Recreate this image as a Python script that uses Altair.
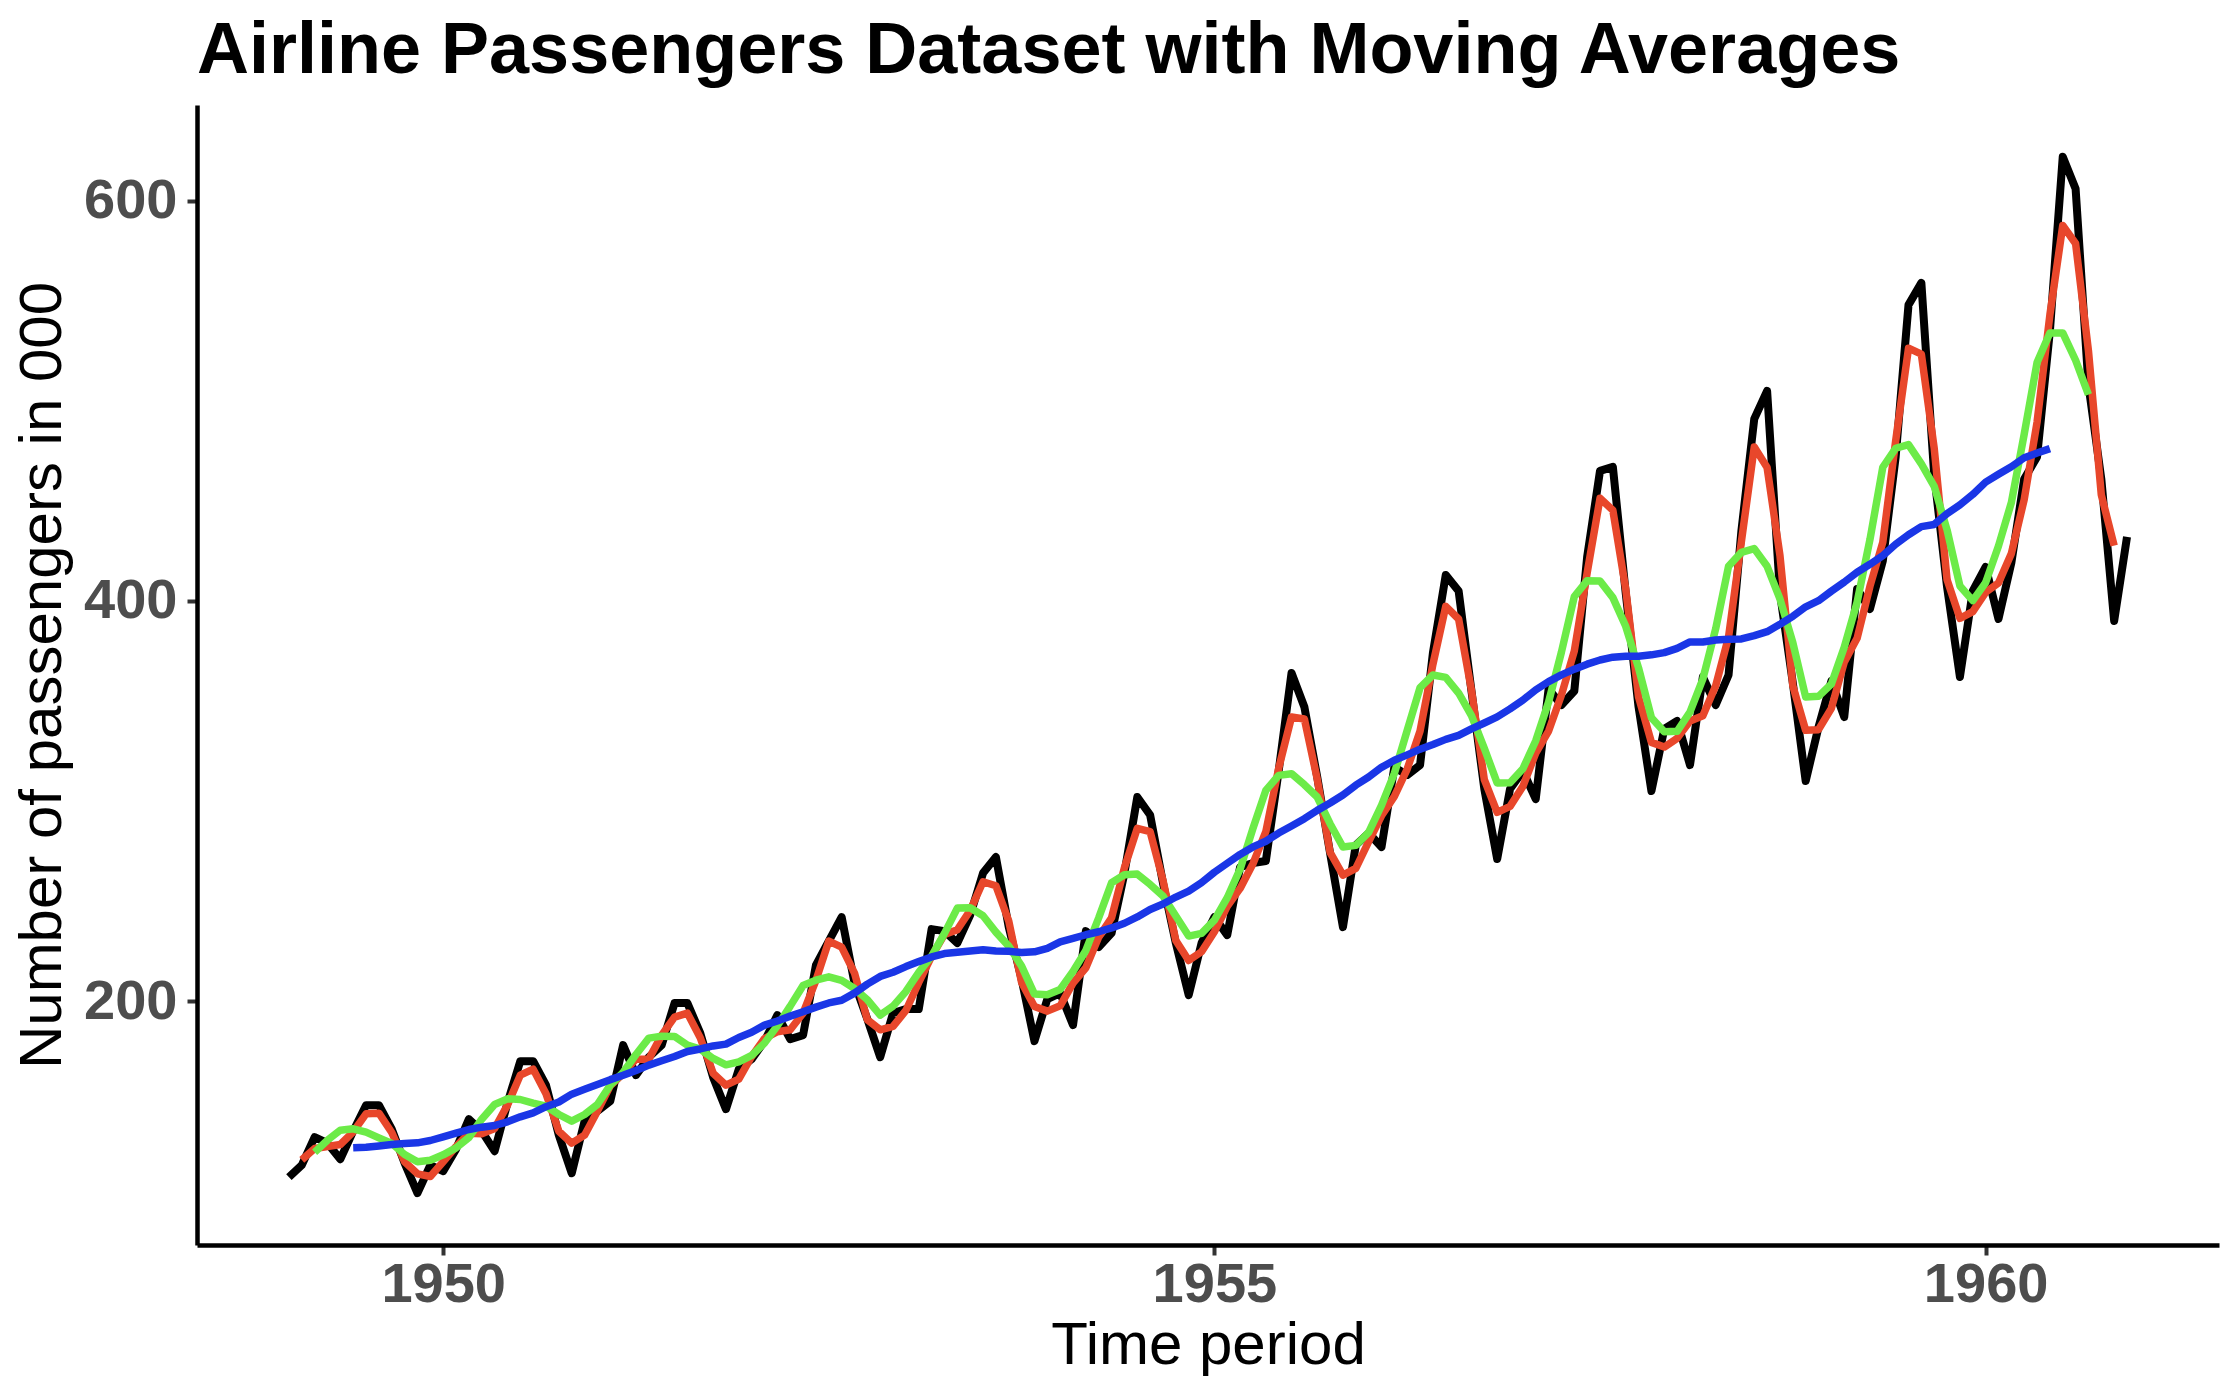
import altair as alt
import pandas as pd

years = list(range(1949, 1961))
passengers = [
    112, 118, 132, 129, 121, 135, 148, 148, 136, 119, 104, 118,
    115, 126, 141, 135, 125, 149, 170, 170, 158, 133, 114, 140,
    145, 150, 178, 163, 172, 178, 199, 199, 184, 162, 146, 166,
    171, 180, 193, 181, 183, 218, 230, 242, 209, 191, 172, 194,
    196, 196, 236, 235, 229, 243, 264, 272, 237, 211, 180, 201,
    204, 188, 235, 227, 234, 264, 302, 293, 259, 229, 203, 229,
    242, 233, 267, 269, 270, 315, 364, 347, 312, 274, 237, 278,
    284, 277, 317, 313, 318, 374, 413, 405, 355, 306, 271, 306,
    315, 301, 356, 348, 355, 422, 465, 467, 404, 347, 305, 336,
    340, 318, 362, 348, 363, 435, 491, 505, 404, 359, 310, 337,
    360, 342, 406, 396, 420, 472, 548, 559, 463, 407, 362, 405,
    417, 391, 419, 461, 472, 535, 622, 606, 508, 461, 390, 432,
]
x_ticks = [1950, 1955, 1960]
y_ticks = [200, 400, 600]

times = [y + m / 12 for y in years for m in range(12)]
df = pd.DataFrame({"t": times, "pax": passengers})

xs = alt.X("t:Q", title="Time period",
           scale=alt.Scale(domain=[1948.404, 1961.513], nice=False, zero=False),
           axis=alt.Axis(values=x_ticks, format="d"))
ys_title = "Number of passengers in 000"
yscale = alt.Scale(domain=[78.1, 647.9], nice=False, zero=False)

base = alt.Chart(df)
srt = [alt.SortField("t")]


def rolling(k, frame, color):
    return base.transform_window(
        ma="mean(pax)", cnt="count()", frame=frame, sort=srt
    ).transform_filter(f"datum.cnt == {k}").mark_line(
        color=color, strokeWidth=7.5, strokeJoin="round"
    ).encode(x=xs, y=alt.Y("ma:Q", scale=yscale))


black = base.mark_line(color="black", strokeWidth=8, strokeJoin="round").encode(
    x=xs, y=alt.Y("pax:Q", title=ys_title, scale=yscale, axis=alt.Axis(values=y_ticks)))
red = rolling(3, [-1, 1], "#E8472B")
green = rolling(6, [-2, 3], "#6CEB48")
blue = rolling(12, [-5, 6], "#1A36E6")

chart = alt.layer(black, red, green, blue).properties(
    width=2022, height=1140,
    autosize=alt.AutoSizeParams(type="none"),
    padding={"left": 189, "top": 97, "right": 1, "bottom": 135},
    title=alt.TitleParams("Airline Passengers Dataset with Moving Averages",
                          anchor="start", frame="group", fontSize=72,
                          fontWeight="bold", font="Liberation Sans",
                          color="black", offset=17),
).configure_view(stroke=None).configure_axis(
    grid=False,
    domainColor="black", domainWidth=4.5,
    tickColor="#333333", tickWidth=4, tickSize=10,
    labelFont="Liberation Sans", labelFontSize=56, labelFontWeight="bold",
    labelColor="#4D4D4D",
    titleFont="Liberation Sans", titleFontSize=60, titleFontWeight="normal",
    titleColor="black",
).configure_axisX(labelPadding=2, titlePadding=4).configure_axisY(
    labelPadding=10, titlePadding=10)

chart.save("out.html", embed_options={"renderer": "svg", "actions": False})
